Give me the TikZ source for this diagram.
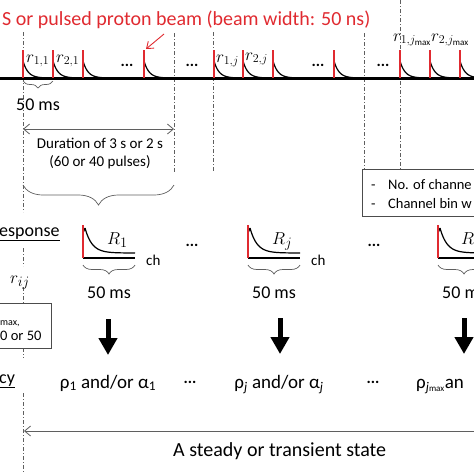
\documentclass[tikz,border=0pt]{standalone}
\usepackage{fontspec}
\setmainfont{Carlito}
\usetikzlibrary{arrows.meta,decorations.pathreplacing}
\definecolor{beamred}{RGB}{224,42,48}
\definecolor{guidegray}{RGB}{95,95,95}
\newcommand\fsz[1]{\fontsize{#1}{#1}\selectfont}
\begin{document}
\begin{tikzpicture}[x=1pt,y=-1pt,
  guide/.style={draw=guidegray, line width=0.8pt, dash pattern=on 4pt off 2pt on 1pt off 2pt},
  pulse/.style={draw=beamred, line width=2.2pt},
  decay/.style={draw=black, line width=1.2pt},
  lbl/.style={inner sep=0pt, anchor=base west},
  ctr/.style={inner sep=0pt, anchor=base},
  brc/.style={draw=guidegray, line width=0.7pt, decorate, decoration={brace, amplitude=#1, mirror}},
  brc/.default=6pt,
  thinarr/.style={draw=guidegray, line width=0.8pt},
  bigarr/.style={draw=black, line width=5pt, -{Triangle[length=17pt,width=18pt]}},
  dots/.style={font=\fsz{16}\bfseries, inner sep=0pt},
  infobox/.style={draw=black!70, line width=0.8pt, fill=white},
]
\useasboundingbox (0,0) rectangle (474,474);

% guide lines (dash-dot)
\coordinate (g1a) at (23,32);  \coordinate (g1b) at (23,212);
\coordinate (g1c) at (23,248); \coordinate (g1d) at (23,266);
\coordinate (g1e) at (23,287); \coordinate (g1f) at (23,303);
\coordinate (g1g) at (23,348); \coordinate (g1h) at (23,358);
\coordinate (g1i) at (23,393); \coordinate (g1j) at (23,474);
\draw[guide] (g1a) -- (g1b) (g1c) -- (g1d) (g1e) -- (g1f) (g1g) -- (g1h) (g1i) -- (g1j);
\coordinate (g2a) at (174,33); \coordinate (g2b) at (174,173);
\coordinate (g3a) at (213,32); \coordinate (g3b) at (213,172);
\coordinate (g4a) at (364,33); \coordinate (g4b) at (364,169);
\coordinate (g5a) at (400,0);  \coordinate (g5b) at (400,169);
\draw[guide] (g2a) -- (g2b) (g3a) -- (g3b) (g4a) -- (g4b) (g5a) -- (g5b);

% title
\node[lbl, text=beamred, font=\fsz{20}] (title) at (2,25) {S or pulsed proton beam (beam width: 50 ns)};

% timeline
\coordinate (tl1) at (-5,78); \coordinate (tl2) at (480,78);
\draw[line width=3pt] (tl1) -- (tl2);

% pulses
\foreach \p in {23,53,83,144,214,243,273,334,400,430,460}{
  \draw[decay] plot[domain=0:32, samples=30, smooth] ({\p+\x},{78-17*exp(-\x/5)});
  \draw[pulse] (\p,50) -- (\p,78);
}

% red pointer arrow
\coordinate (ra1) at (164,34); \coordinate (ra2) at (146,49);
\draw[draw=beamred, line width=0.9pt, -{Straight Barb[length=6pt,width=9pt]}] (ra1) -- (ra2);

% pulse labels
\node[lbl, font=\fsz{18}] (r11) at (26,62) {$r_{1,1}$};
\node[lbl, font=\fsz{18}] (r21) at (56,62) {$r_{2,1}$};
\node[lbl, font=\fsz{18}] (r1j) at (216,62) {$r_{1,j}$};
\node[lbl, font=\fsz{18}] (r2j) at (245,60) {$r_{2,j}$};
\node[lbl, font=\fsz{18}] (r1m) at (393,41) {$r_{1,j_{\mathrm{max}}}$};
\node[lbl, font=\fsz{18}] (r2m) at (431,41) {$r_{2,j_{\mathrm{max}}}$};
\node[dots] (td1) at (127,65) {...};
\node[dots] (td2) at (192,65) {...};
\node[dots] (td3) at (318,65) {...};
\node[dots] (td4) at (383,65) {...};

% 50 ms brace at top
\coordinate (b0a) at (23,81); \coordinate (b0b) at (53,81);
\draw[brc=7pt] (b0a) -- (b0b);
\node[ctr, font=\fsz{18}] (ms0) at (38,110) {50 ms};

% duration arrow
\coordinate (d1) at (23,129); \coordinate (d2) at (174,129);
\draw[thinarr, {Straight Barb[length=6pt,width=10pt]}-{Straight Barb[length=6pt,width=10pt]}] (d1) -- (d2);
\node[font=\fsz{15}, align=center, inner sep=0pt] (dur) at (100,154)
  {Duration of 3 s or 2 s\\[3pt](60 or 40 pulses)};
\coordinate (bb1) at (23,185); \coordinate (bb2) at (174,185);
\draw[brc=20pt] (bb1) -- (bb2);

% info box right
\coordinate (ib1) at (362,169); \coordinate (ib2) at (480,216);
\draw[infobox] (ib1) rectangle (ib2);
\node[lbl, font=\fsz{14.5}] (ibd1) at (371,189) {-};
\node[lbl, font=\fsz{14.5}] (ibt1) at (388,189) {No. of channe};
\node[lbl, font=\fsz{14.5}] (ibd2) at (371,208) {-};
\node[lbl, font=\fsz{14.5}] (ibt2) at (388,208) {Channel bin w};

% left labels
\node[lbl, font=\fsz{18}] (resp) at (-1,236) {\underline{esponse}};
\node[lbl, font=\fsz{19}] (rij) at (10,283) {$r_{ij}$};
\coordinate (lb1) at (-5,303); \coordinate (lb2) at (51,348);
\draw[infobox] (lb1) rectangle (lb2);
\node[lbl, font=\fsz{10}] (lbt1) at (0,325) {max,};
\node[lbl, font=\fsz{14.5}] (lbt2) at (0,340) {0 or 50};
\node[lbl, font=\fsz{18}] (effy) at (-1,383) {\underline{cy}};

% spectra
\foreach \p/\nm/\lab in {83/1/{$R_1$}, 248/2/{$R_j$}}{
  \draw[line width=1.1pt] (\p,258) -- (\p+52,258);
  \draw[decay] plot[domain=2:52, samples=40, smooth] ({\p+\x},{253-25*exp(-(\x-2)/7)});
  \draw[decay] (\p+0.5,232) -- (\p+2,228);
  \draw[pulse, line width=1.8pt] (\p,225) -- (\p,258);
  \draw[brc=9pt] (\p,265) -- (\p+52,265);
  \node[lbl, font=\fsz{19}] (R\nm) at (\p+24,244) {\lab};
  \node[lbl, font=\fsz{15}] (ch\nm) at (\p+63,265) {ch};
  \node[ctr, font=\fsz{18}] (ms\nm) at (\p+26,298) {50 ms};
}
\draw[line width=1.1pt] (438,258) -- (490,258);
\draw[decay] plot[domain=2:40, samples=40, smooth] ({438+\x},{253-25*exp(-(\x-2)/7)});
\draw[decay] (438.5,232) -- (440,228);
\draw[pulse, line width=1.8pt] (438,225) -- (438,258);
\draw[brc=9pt] (438,265) -- (490,265);
\node[lbl, font=\fsz{19}] (R3) at (461,244) {$R$};
\node[lbl, font=\fsz{18}] (ms3) at (442,298) {50 m};
\node[dots] (sd1) at (192,245) {...};
\node[dots] (sd2) at (374,245) {...};

% big arrows
\coordinate (a1s) at (108,319); \coordinate (a1e) at (108,355);
\coordinate (a2s) at (280,318); \coordinate (a2e) at (280,354);
\coordinate (a3s) at (464,318); \coordinate (a3e) at (464,354);
\draw[bigarr] (a1s) -- (a1e);
\draw[bigarr] (a2s) -- (a2e);
\draw[bigarr] (a3s) -- (a3e);

% results
\node[ctr, font=\fsz{19}] (res1) at (108,388) {ρ\textsubscript{1} and/or α\textsubscript{1}};
\node[ctr, font=\fsz{19}] (res2) at (279,388) {ρ\textsubscript{\textit{j}} and/or α\textsubscript{\textit{j}}};
\node[lbl, font=\fsz{19}] (res3) at (416,388) {ρ\textsubscript{\textit{j}\fsz{9}max}an};
\node[dots] (bd1) at (190,382) {...};
\node[dots] (bd2) at (373,382) {...};

% steady state arrow
\coordinate (s1) at (480,431); \coordinate (s2) at (24,431);
\draw[thinarr, -{Straight Barb[length=6pt,width=10pt]}] (s1) -- (s2);
\node[lbl, font=\fsz{20}] (state) at (173,456) {A steady or transient state};
\end{tikzpicture}
\end{document}
